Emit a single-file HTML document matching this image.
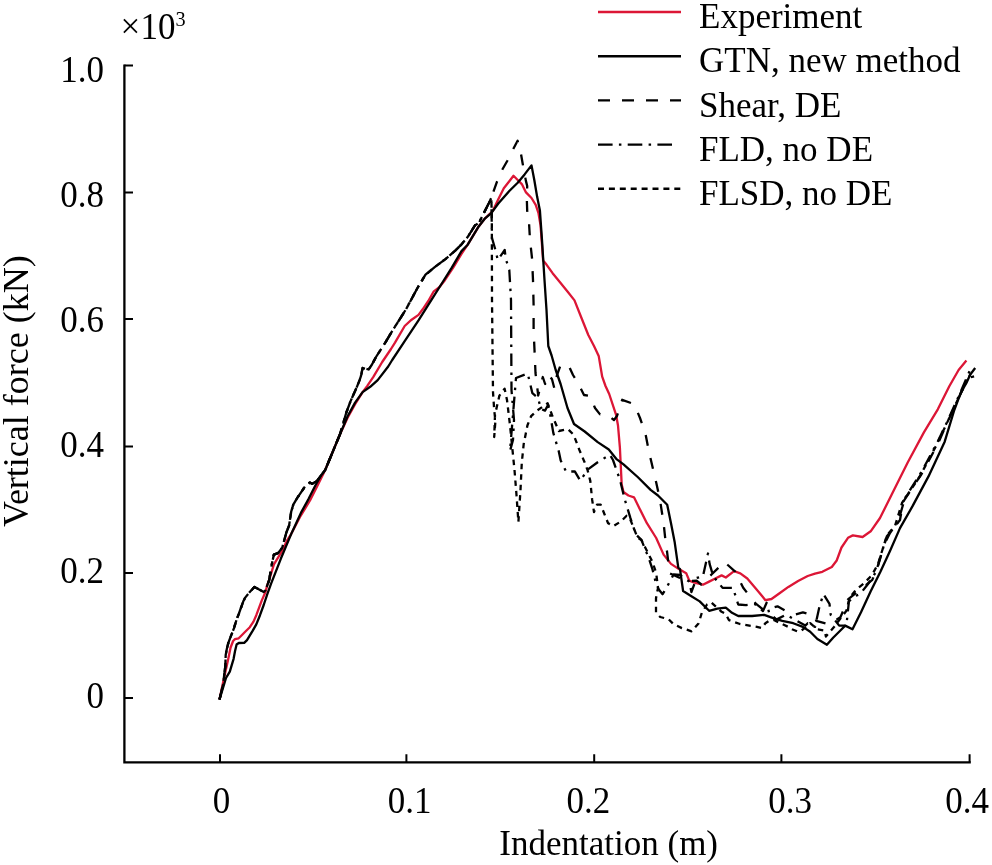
<!DOCTYPE html><html><head><meta charset="utf-8"><style>html,body{margin:0;padding:0;background:#fff;}svg{display:block;}</style></head><body><svg width="992" height="865" viewBox="0 0 992 865">
<rect width="992" height="865" fill="#fff"/>
<polyline points="219.5,699.5 223.8,679.0 228.3,658.8 230.6,647.5 233.1,641.0 235.0,639.2 238.7,638.3 241.5,635.5 245.2,631.8 249.8,627.2 253.5,621.6 256.3,615.2 259.0,607.8 261.8,600.4 265.5,592.0 267.4,584.6 269.2,580.0 273.9,564.3 280.8,553.2 287.7,539.3 290.5,535.2 300.0,517.0 310.0,500.5 318.3,483.9 325.2,470.0 340.0,434.2 347.6,417.7 355.1,404.1 362.6,392.1 367.1,386.1 373.2,377.1 382.2,362.0 391.0,349.0 395.0,342.6 404.7,326.0 411.6,319.7 418.5,314.9 422.7,309.3 428.3,301.0 433.8,291.3 439.3,287.2 444.9,280.2 453.2,267.7 461.5,253.9 467.7,244.7 478.1,227.3 485.1,218.3 492.7,211.0 498.3,199.3 503.8,188.3 509.3,181.3 513.5,175.8 517.7,180.0 521.8,184.1 526.0,192.4 531.5,198.0 535.7,204.9 538.5,213.2 540.5,225.0 542.0,245.0 543.1,260.5 546.3,264.3 552.6,273.2 560.6,283.0 567.5,291.5 574.5,300.4 581.4,317.7 588.3,335.0 594.0,346.0 598.7,355.9 602.2,376.7 605.5,386.0 609.2,394.0 616.1,414.8 618.0,425.5 619.9,447.7 620.8,466.2 621.7,484.6 623.5,492.0 628.4,495.5 634.0,497.3 639.5,508.4 646.9,523.2 656.2,538.0 663.6,554.6 671.0,563.9 678.9,569.1 686.2,573.3 689.3,580.6 694.5,582.7 702.9,584.7 709.1,581.6 715.3,578.5 721.6,575.4 725.8,577.5 734.1,571.2 740.3,573.3 747.3,578.5 754.5,586.9 760.6,594.2 765.4,600.2 771.5,599.0 779.9,593.0 788.4,586.9 798.1,580.9 807.7,576.0 815.0,573.6 822.3,571.8 831.8,567.0 836.7,560.5 841.5,547.5 848.0,537.8 852.9,535.4 862.6,537.0 870.7,531.3 880.0,518.0 891.6,494.8 907.7,462.5 923.9,432.4 937.8,409.3 949.3,386.2 958.6,370.0 966.4,360.6" fill="none" stroke="#dc1636" stroke-width="2.3" stroke-linejoin="round"/>
<polyline points="219.5,699.5 223.0,685.0 225.3,666.3 225.7,655.0 226.8,649.0 228.3,643.0 230.4,637.4 234.0,628.1 236.8,618.9 238.7,614.2 243.3,601.3 245.2,597.6 248.9,593.0 254.4,586.9 263.7,592.0 265.5,590.2 269.2,580.0 271.8,564.3 273.9,554.6 278.0,553.2 282.2,547.7 286.4,532.4 289.1,525.5 291.2,511.6 293.3,504.7 297.4,497.7 305.8,485.3 309.9,482.5 312.0,483.9 316.9,481.1 321.0,475.5 325.2,470.0 340.0,434.2 346.1,413.2 350.6,401.1 356.6,387.6 359.6,380.1 361.1,375.6 362.6,368.0 368.6,369.5 371.7,365.0 376.0,357.0 385.3,342.6 393.6,328.8 406.0,309.3 417.2,288.5 425.5,274.7 434.7,267.1 445.8,258.8 455.5,250.4 461.0,244.9 468.0,236.6 474.9,225.5 479.0,222.7 483.2,214.4 488.8,203.3 491.3,197.7 497.0,181.6 501.7,170.7 507.5,160.5 513.2,149.1 517.6,140.8 520.8,152.9 522.7,163.7 525.9,180.9 527.2,186.0 526.8,198.7 527.2,210.8 529.1,224.2 530.0,240.0 532.0,258.0 533.0,280.0 533.6,305.0 533.6,330.0 534.5,350.0 535.5,373.0 538.2,395.5 542.8,377.0 545.1,384.0 548.6,374.7 552.0,379.3 554.4,388.6 557.0,375.0 560.1,366.6 568.0,364.3 573.0,375.0 578.0,383.0 584.0,395.0 590.0,396.0 595.0,408.0 600.0,414.4 607.0,414.4 614.0,420.0 617.0,416.0 622.2,399.8 631.0,403.0 635.0,406.0 640.0,418.0 645.5,433.9 648.8,451.1 656.2,482.5 659.9,499.2 663.6,523.2 665.4,539.9 667.2,552.8 669.6,573.3 680.0,578.0 688.4,581.3 696.6,580.6 701.3,584.5 712.0,574.0 724.7,561.9 727.8,565.0 735.2,571.6 743.2,587.7 750.9,597.8 756.1,603.9 764.2,610.3 777.5,606.3 788.4,612.3 794.4,614.8 802.9,612.3 815.0,616.0 816.2,620.8 829.5,624.4 840.4,617.2 848.0,599.4 856.1,592.9 864.2,586.4 872.3,579.9 877.2,568.6 882.0,552.4 886.9,536.2 893.4,528.1 900.0,520.0 903.1,501.8 921.6,474.0 937.8,444.0 947.0,423.2 960.9,393.2 970.1,374.7 975.3,367.9" fill="none" stroke="#000" stroke-width="2.3" stroke-dasharray="11 12.5" stroke-linejoin="round"/>
<polyline points="219.5,699.5 223.0,685.0 225.3,666.3 225.7,655.0 226.8,649.0 228.3,643.0 230.4,637.4 234.0,628.1 236.8,618.9 238.7,614.2 243.3,601.3 245.2,597.6 248.9,593.0 254.4,586.9 263.7,592.0 265.5,590.2 269.2,580.0 271.8,564.3 273.9,554.6 278.0,553.2 282.2,547.7 286.4,532.4 289.1,525.5 291.2,511.6 293.3,504.7 297.4,497.7 305.8,485.3 309.9,482.5 312.0,483.9 316.9,481.1 321.0,475.5 325.2,470.0 340.0,434.2 346.1,413.2 350.6,401.1 356.6,387.6 359.6,380.1 361.1,375.6 362.6,368.0 368.6,369.5 371.7,365.0 376.0,357.0 385.3,342.6 393.6,328.8 406.0,309.3 417.2,288.5 425.5,274.7 434.7,267.1 445.8,258.8 455.5,250.4 461.0,244.9 468.0,236.6 474.9,225.5 479.0,222.7 483.2,214.4 488.8,203.3 491.3,197.7 492.0,238.0 496.0,252.0 497.7,260.0 502.4,253.3 504.7,250.0 505.8,259.0 509.3,270.0 511.0,300.0 511.5,390.0 514.0,420.0 513.0,440.0 510.0,451.0 516.0,378.0 527.7,373.5 532.4,393.2 538.0,398.0 541.0,409.0 545.0,410.6 548.0,405.0 550.5,416.2 553.3,432.9 558.8,451.4 560.7,460.6 566.2,471.7 574.8,471.4 580.3,480.7 587.7,469.6 598.0,462.0 609.9,454.8 613.0,460.0 620.0,480.0 624.7,499.2 630.3,517.7 635.8,534.3 641.4,539.9 645.1,549.1 648.8,558.3 652.5,569.4 656.2,584.2 659.2,590.0 662.6,594.2 667.4,586.1 673.7,574.3 680.0,575.0 689.3,581.6 691.4,592.0 696.6,578.0 702.9,576.4 708.0,553.5 709.6,563.9 713.3,576.4 722.6,587.9 733.0,587.9 738.2,604.5 746.0,605.1 754.5,603.9 763.0,611.1 766.6,602.7 769.0,612.3 776.3,619.6 786.0,614.8 805.3,625.6 807.7,623.2 815.0,626.9 819.8,605.1 823.5,594.2 829.5,603.9 830.7,614.8 839.2,625.6 846.4,625.6 848.9,601.5 853.7,596.6 860.0,594.2 868.0,584.0 876.0,572.0 884.0,545.0 890.0,533.0 898.0,522.0 905.0,498.0 922.0,471.0 938.0,441.0 948.0,420.0 961.0,391.0 969.7,370.8" fill="none" stroke="#000" stroke-width="2.3" stroke-dasharray="12.5 6.5 2.5 6.5" stroke-linejoin="round"/>
<polyline points="219.5,699.5 223.0,685.0 225.3,666.3 225.7,655.0 226.8,649.0 228.3,643.0 230.4,637.4 234.0,628.1 236.8,618.9 238.7,614.2 243.3,601.3 245.2,597.6 248.9,593.0 254.4,586.9 263.7,592.0 265.5,590.2 269.2,580.0 271.8,564.3 273.9,554.6 278.0,553.2 282.2,547.7 286.4,532.4 289.1,525.5 291.2,511.6 293.3,504.7 297.4,497.7 305.8,485.3 309.9,482.5 312.0,483.9 316.9,481.1 321.0,475.5 325.2,470.0 340.0,434.2 346.1,413.2 350.6,401.1 356.6,387.6 359.6,380.1 361.1,375.6 362.6,368.0 368.6,369.5 371.7,365.0 376.0,357.0 385.3,342.6 393.6,328.8 406.0,309.3 417.2,288.5 425.5,274.7 434.7,267.1 445.8,258.8 455.5,250.4 461.0,244.9 468.0,236.6 474.9,225.5 479.0,222.7 483.2,214.4 488.8,203.3 491.3,197.7 491.8,215.0 492.0,300.0 493.0,392.0 494.2,410.0 495.4,421.0 494.2,437.0 495.0,414.7 499.4,395.6 504.6,388.7 507.0,400.0 509.8,423.4 512.0,445.0 514.5,470.0 516.5,495.0 518.4,522.0 520.5,490.0 521.8,462.5 523.7,444.0 527.4,425.5 531.1,416.2 536.6,410.9 542.2,407.0 547.7,403.3 552.0,415.0 558.8,431.0 568.1,429.2 573.6,434.7 579.2,449.5 584.7,462.5 587.5,469.9 590.3,480.9 592.1,499.4 594.0,512.0 597.0,504.7 600.7,504.7 604.4,514.0 608.1,523.2 613.6,526.0 621.0,521.4 626.6,515.8 630.3,519.5 634.0,528.8 637.7,538.0 641.4,539.9 645.1,547.2 648.8,554.6 652.5,562.0 656.2,573.1 658.0,587.9 656.0,598.3 656.0,612.8 660.2,617.0 668.5,619.1 673.7,624.3 681.9,628.1 691.6,631.3 698.7,623.2 701.8,612.8 707.0,604.5 711.2,602.4 721.6,611.8 725.8,613.9 728.9,620.1 740.0,624.0 756.9,626.9 761.8,628.1 765.4,623.2 769.0,620.8 773.9,620.0 780.3,623.2 788.4,626.9 792.0,629.3 798.1,631.7 801.7,630.5 810.2,623.2 817.4,629.3 824.7,630.5 825.9,636.5 834.0,627.0 846.4,610.7 849.6,597.7 856.1,589.6 864.2,583.2 872.0,575.0 878.0,564.0 883.0,548.0 887.0,535.0 895.0,526.0 902.0,503.0 920.0,476.0 936.0,446.0 946.0,425.0 960.0,395.0 968.0,378.0 974.1,376.4" fill="none" stroke="#000" stroke-width="2.3" stroke-dasharray="5.5 5" stroke-linejoin="round"/>
<polyline points="219.5,699.5 223.0,688.0 226.0,678.0 229.8,671.6 233.6,658.8 235.0,651.3 236.6,644.5 238.8,643.0 244.2,642.9 247.0,640.1 252.6,630.9 256.3,624.4 260.0,615.2 263.7,605.0 267.4,593.9 271.1,583.7 280.8,558.8 291.9,532.4 301.6,511.6 308.5,499.1 315.5,485.3 321.0,475.5 325.2,470.0 340.0,434.2 347.6,416.2 355.1,402.6 362.6,392.1 370.2,386.8 377.7,380.1 388.2,366.5 392.2,360.0 404.7,341.2 418.5,320.4 432.4,298.3 442.1,283.0 451.8,267.7 461.5,251.1 467.7,244.7 478.1,227.3 485.1,218.3 491.3,213.2 498.3,203.5 509.3,191.0 517.7,182.7 524.6,174.4 531.5,165.4 534.3,180.0 537.1,196.6 539.9,210.4 542.0,240.0 544.5,280.0 546.5,310.0 548.3,346.0 551.6,355.5 555.7,370.0 560.6,384.0 567.5,408.0 574.0,424.0 584.7,431.5 597.7,442.1 608.8,449.5 616.2,458.8 623.5,464.3 637.7,477.0 650.6,489.9 658.0,495.5 667.2,504.7 671.0,523.2 674.6,541.7 678.3,567.6 680.0,569.1 683.1,591.0 691.4,596.2 699.7,601.4 709.1,610.8 717.4,608.7 725.8,607.6 732.0,612.8 738.2,616.0 752.1,616.0 764.2,614.8 773.9,618.4 782.3,620.8 793.2,623.2 802.9,626.9 810.2,631.7 817.4,639.0 826.9,644.7 833.1,637.7 840.4,630.5 845.2,625.6 852.5,629.3 861.0,612.3 870.7,591.3 880.4,571.8 890.1,550.8 900.0,528.1 912.4,506.4 928.5,476.4 944.7,441.7 954.3,410.0 960.8,392.6 966.4,382.9 970.5,374.0" fill="none" stroke="#000" stroke-width="2.3" stroke-linejoin="round"/>
<path d="M124.4,64.6 V762.3 H970.8" fill="none" stroke="#000" stroke-width="2.3" stroke-linejoin="miter"/>
<path d="M124.4,698.1 H133.0 M124.4,573.1 H133.0 M124.4,446.4 H133.0 M124.4,318.9 H133.0 M124.4,192.6 H133.0 M124.4,65.6 H133.0 M220.0,762.3 V754.3 M406.4,762.3 V754.3 M594.2,762.3 V754.3 M781.4,762.3 V754.3 M969.6,762.3 V754.3" fill="none" stroke="#000" stroke-width="2.0"/>
<text transform="translate(104,708.1) scale(1,1.08)" font-family="Liberation Serif, Times New Roman, serif" font-size="35" text-anchor="end">0</text>
<text transform="translate(104,582.7) scale(1,1.08)" font-family="Liberation Serif, Times New Roman, serif" font-size="35" text-anchor="end">0.2</text>
<text transform="translate(104,457.4) scale(1,1.08)" font-family="Liberation Serif, Times New Roman, serif" font-size="35" text-anchor="end">0.4</text>
<text transform="translate(104,331.5) scale(1,1.08)" font-family="Liberation Serif, Times New Roman, serif" font-size="35" text-anchor="end">0.6</text>
<text transform="translate(104,206.9) scale(1,1.08)" font-family="Liberation Serif, Times New Roman, serif" font-size="35" text-anchor="end">0.8</text>
<text transform="translate(104,81.7) scale(1,1.08)" font-family="Liberation Serif, Times New Roman, serif" font-size="35" text-anchor="end">1.0</text>
<text transform="translate(221.5,812.5) scale(1,1.08)" font-family="Liberation Serif, Times New Roman, serif" font-size="35" text-anchor="middle">0</text>
<text transform="translate(409.5,812.5) scale(1,1.08)" font-family="Liberation Serif, Times New Roman, serif" font-size="35" text-anchor="middle">0.1</text>
<text transform="translate(588.3,812.5) scale(1,1.08)" font-family="Liberation Serif, Times New Roman, serif" font-size="35" text-anchor="middle">0.2</text>
<text transform="translate(790.2,812.5) scale(1,1.08)" font-family="Liberation Serif, Times New Roman, serif" font-size="35" text-anchor="middle">0.3</text>
<text transform="translate(967.1,812.5) scale(1,1.08)" font-family="Liberation Serif, Times New Roman, serif" font-size="35" text-anchor="middle">0.4</text>
<text x="608.7" y="855" font-family="Liberation Serif, Times New Roman, serif" font-size="35" text-anchor="middle">Indentation (m)</text>
<text transform="translate(28.4,391.2) rotate(-90)" font-family="Liberation Serif, Times New Roman, serif" font-size="36" text-anchor="middle">Vertical force (kN)</text>
<text x="120.6" y="38.2" font-family="Liberation Serif, Times New Roman, serif" font-size="35">×</text>
<text transform="translate(140.4,39.2) scale(1,1.08)" font-family="Liberation Serif, Times New Roman, serif" font-size="35">10</text>
<text x="175.5" y="26.2" font-family="Liberation Serif, Times New Roman, serif" font-size="20.3">3</text>
<line x1="598" y1="12.0" x2="681" y2="12.0" stroke="#dc1636" stroke-width="2.4"/>
<text x="699" y="27.8" font-family="Liberation Serif, Times New Roman, serif" font-size="35">Experiment</text>
<line x1="598" y1="56.2" x2="681" y2="56.2" stroke="#000" stroke-width="2.4"/>
<text x="699" y="72.2" font-family="Liberation Serif, Times New Roman, serif" font-size="35">GTN, new method</text>
<line x1="598" y1="100.4" x2="681" y2="100.4" stroke="#000" stroke-width="2.4" stroke-dasharray="12 12"/>
<text x="699" y="116.6" font-family="Liberation Serif, Times New Roman, serif" font-size="35">Shear, DE</text>
<line x1="598" y1="144.6" x2="673.7" y2="144.6" stroke="#000" stroke-width="2.4" stroke-dasharray="14.6 6.3 2.5 6.3"/>
<text x="699" y="161.0" font-family="Liberation Serif, Times New Roman, serif" font-size="35">FLD, no DE</text>
<line x1="598" y1="188.8" x2="681" y2="188.8" stroke="#000" stroke-width="2.4" stroke-dasharray="6 4.9"/>
<text x="699" y="205.4" font-family="Liberation Serif, Times New Roman, serif" font-size="35">FLSD, no DE</text>
</svg></body></html>
